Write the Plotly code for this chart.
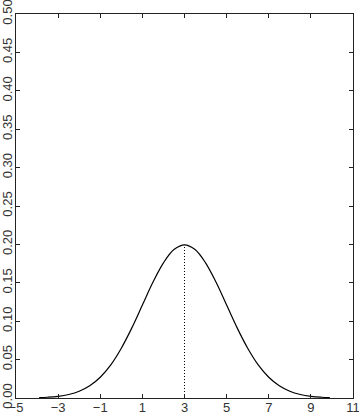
import plotly.graph_objects as go

# Density curve values (peak ~0.2 at x=3)
x_vals = [-3.9, -3.5, -3.0, -2.5, -2.0, -1.5, -1.0, -0.5, 0.0, 0.5, 1.0, 1.5, 2.0, 2.5,
          3.0, 3.5, 4.0, 4.5, 5.0, 5.5, 6.0, 6.5, 7.0, 7.5, 8.0, 8.5, 9.0, 9.5, 9.9]
y_vals = [0.0005, 0.0010, 0.0022, 0.0046, 0.0088, 0.0159, 0.0270, 0.0431, 0.0648, 0.0913,
          0.1210, 0.1506, 0.1760, 0.1933, 0.1995, 0.1933, 0.1760, 0.1506, 0.1210, 0.0913,
          0.0648, 0.0431, 0.0270, 0.0159, 0.0088, 0.0046, 0.0022, 0.0010, 0.0005]
mean_x = [3.0, 3.0]
mean_y = [0.0, 0.1995]

x_ticks = [-5, -3, -1, 1, 3, 5, 7, 9, 11]
x_tick_text = ["\u22125", "\u22123", "\u22121", "1", "3", "5", "7", "9", "11"]
y_ticks = [0.00, 0.05, 0.10, 0.15, 0.20, 0.25, 0.30, 0.35, 0.40, 0.45, 0.50]
y_tick_text = ["0.00", "0.05", "0.10", "0.15", "0.20", "0.25", "0.30", "0.35", "0.40", "0.45", "0.50"]

fig = go.Figure()
fig.add_trace(go.Scatter(x=x_vals, y=y_vals, mode="lines",
                         line=dict(color="black", width=1.2, shape="spline"),
                         hoverinfo="skip"))
fig.add_trace(go.Scatter(x=mean_x, y=mean_y, mode="lines",
                         line=dict(color="black", width=1, dash="1px,2px"),
                         hoverinfo="skip"))

axis_common = dict(showline=True, linecolor="#222", linewidth=1, mirror="ticks",
                   ticks="inside", ticklen=4, tickcolor="#222", tickwidth=1,
                   showgrid=False, zeroline=False, ticklabeloverflow="allow",
                   automargin=False)

fig.update_layout(
    width=359, height=416,
    margin=dict(l=16, r=6, t=14, b=18),
    paper_bgcolor="white", plot_bgcolor="white",
    showlegend=False,
    font=dict(family="Liberation Sans", size=13, color="#333"),
    xaxis=dict(range=[-5, 11], tickvals=x_ticks, ticktext=x_tick_text,
               ticklabelstandoff=-3, **axis_common),
    yaxis=dict(range=[0, 0.5], tickvals=y_ticks, ticktext=y_tick_text, tickangle=-90,
               ticklabelstandoff=-2, **axis_common),
)

fig.write_html("out.html", config={"displayModeBar": False},
               post_script="document.body.style.margin='0px';document.body.style.overflow='hidden';")
